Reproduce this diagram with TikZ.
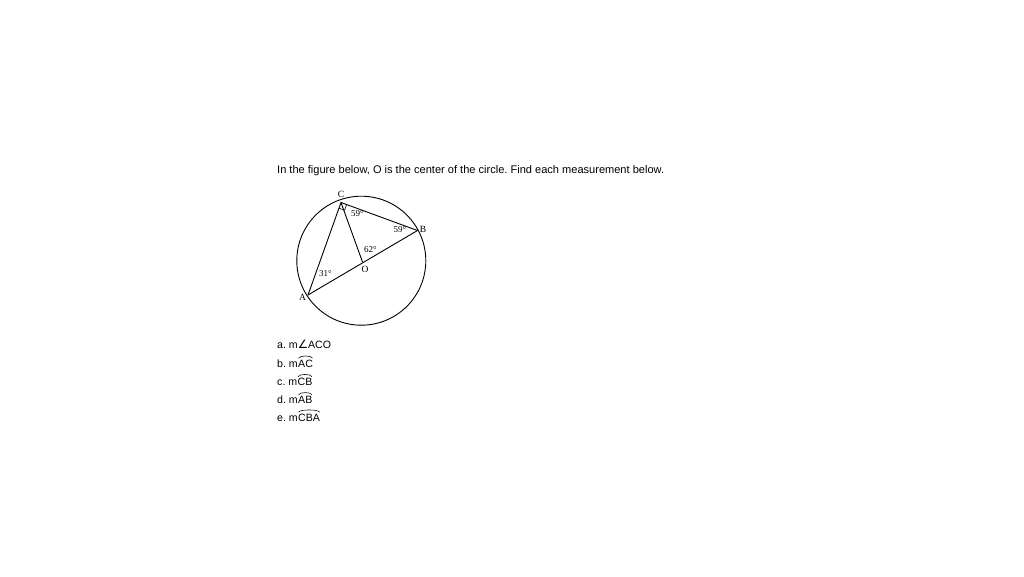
\documentclass[tikz,border=0pt]{standalone}
\usepackage{fontspec}
\usetikzlibrary{calc}
\setmainfont{Liberation Sans}
\newfontfamily\seriffont{Liberation Serif}
\newfontfamily\symfont{DejaVu Sans}
\frenchspacing
\begin{document}
\begin{tikzpicture}[x=1pt,y=-1pt,
  txt/.style={inner sep=0pt,anchor=base west,font=\fontsize{11.05}{13}\selectfont},
  qtxt/.style={inner sep=0pt,anchor=base west,font=\fontsize{10.6}{12}\selectfont},
  lbl/.style={inner sep=0pt,font=\seriffont\fontsize{9.5}{11}\selectfont},
  deg/.style={inner sep=0pt,font=\seriffont\fontsize{9}{10}\selectfont},
  seg/.style={line width=0.9pt},
  arcmark/.style={line width=0.55pt}]
\useasboundingbox[fill=white] (0,0) rectangle (1024,576);
% header
\node[txt] (head) at (277,173) {In the figure below, O is the center of the circle. Find each measurement below.};
% figure
\coordinate (Oc) at (361.3,260.7);
\coordinate (C) at (341,202.5);
\coordinate (B) at (417.5,230.5);
\coordinate (A) at (308,295);
\coordinate (O) at (362.5,262);
\draw[seg] (Oc) circle[radius=64.5];
\draw[seg] (A) -- (B);
\draw[seg] (A) -- (C) -- (B);
\draw[seg] (C) -- (O);
% right angle mark at C
\coordinate (ra1) at ($(C)!6pt!(A)$);
\coordinate (ra2) at ($(C)!6pt!(B)$);
\draw[line width=0.6pt] (ra1) -- ($(ra1)+(ra2)-(C)$) -- (ra2);
% labels
\node[lbl] (lC) at (341,194) {C};
\node[lbl] (lB) at (423,229) {B};
\node[lbl] (lA) at (302.5,297) {A};
\node[lbl] (lO) at (365,269.5) {O};
\node[deg] (d1) at (357.5,213.5) {59°};
\node[deg] (d2) at (400,230) {59°};
\node[deg] (d3) at (370.5,249.5) {62°};
\node[deg] (d4) at (325.5,274) {31°};
% questions
\node[qtxt] (qa) at (277,348.5) {a. m{\symfont\fontsize{11.5}{12}\selectfont∠}ACO};
\node[qtxt] (qb) at (277,367) {b. m};
\node[qtxt] (qbx) at (qb.base east) {AC};
\node[qtxt] (qc) at (277,385.5) {c. m};
\node[qtxt] (qcx) at (qc.base east) {CB};
\node[qtxt] (qd) at (277,403.5) {d. m};
\node[qtxt] (qdx) at (qd.base east) {AB};
\node[qtxt] (qe) at (277,421) {e. m};
\node[qtxt] (qex) at (qe.base east) {CBA};
\foreach \n in {qbx,qcx,qdx,qex}{
  \draw[arcmark] ([xshift=0.6pt,yshift=1.2pt]\n.north west) .. controls ([xshift=1.5pt,yshift=4.2pt]\n.north west) and ([xshift=-1.5pt,yshift=4.2pt]\n.north east) .. ([xshift=-0.6pt,yshift=1.2pt]\n.north east);
}
\end{tikzpicture}
\end{document}
